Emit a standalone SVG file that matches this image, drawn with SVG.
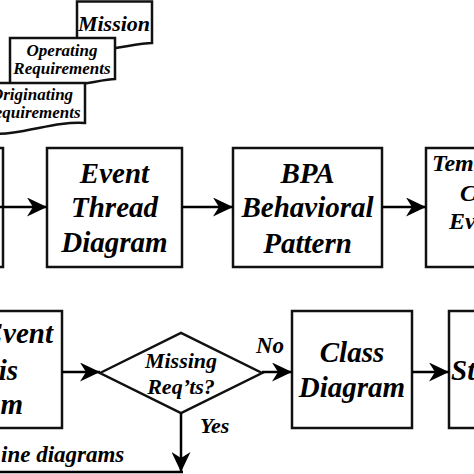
<svg xmlns="http://www.w3.org/2000/svg" width="474" height="474" viewBox="0 0 474 474">
<style>
.b{fill:#fff;stroke:#111;stroke-width:2.5}
.t{font-family:"Liberation Serif","Times New Roman",serif;font-weight:bold;font-style:italic;fill:#000}
.big{font-size:29px;text-anchor:middle}
.c{stroke:#000;stroke-width:2.5;fill:none}
</style>
<defs>
<marker id="ah" markerUnits="userSpaceOnUse" markerWidth="20" markerHeight="19" refX="20" refY="9.5" orient="auto" viewBox="0 0 20 19">
<path d="M0,0 L20,9.5 L0,19 L6,9.5 z" fill="#000"/>
</marker>
</defs>
<rect width="474" height="474" fill="#fff"/>
<g id="mission">
<path class="b" d="M77,1.5 H152 V43 C135,43 100,54 77,50 Z"/>
<text class="t" x="114" y="31" font-size="22" text-anchor="middle">Mission</text>
</g>
<g id="operating">
<path class="b" d="M10,38 H115 V79 C100,79 60,92 10,88 Z"/>
<text class="t" x="62" y="56" font-size="17" text-anchor="middle">Operating</text>
<text class="t" x="62" y="74" font-size="17" text-anchor="middle">Requirements</text>
</g>
<g id="originating">
<path class="b" d="M-20,83 H85 V123 C50,121 25,136 -20,134 Z"/>
<text class="t" x="32" y="100" font-size="17" text-anchor="middle">Originating</text>
<text class="t" x="32" y="118" font-size="17" text-anchor="middle">Requirements</text>
</g>
<g id="box0">
<rect class="b" x="-120" y="148" width="123" height="119"/>
</g>
<g id="event-thread">
<rect class="b" x="47" y="148" width="135" height="119"/>
<text class="t big" x="114.5" y="183">Event</text>
<text class="t big" x="114.5" y="217">Thread</text>
<text class="t big" x="114.5" y="252">Diagram</text>
</g>
<g id="bpa">
<rect class="b" x="233" y="148" width="149" height="119"/>
<text class="t big" x="307.5" y="183">BPA</text>
<text class="t big" x="307.5" y="217">Behavioral</text>
<text class="t big" x="307.5" y="253">Pattern</text>
</g>
<g id="temporal">
<rect class="b" x="426" y="148" width="60" height="119"/>
<text class="t" x="432" y="171" font-size="24">Tem</text>
<text class="t" x="460" y="201" font-size="24">C</text>
<text class="t" x="449" y="229" font-size="24">Ev</text>
</g>
<g id="event-analysis">
<rect class="b" x="-80" y="311" width="142" height="117"/>
<text class="t" x="53" y="343" font-size="29" text-anchor="end">Event</text>
<text class="t" x="18" y="380" font-size="29" text-anchor="end">Analysis</text>
<text class="t" x="23" y="414" font-size="29" text-anchor="end">Diagram</text>
</g>
<g id="decision">
<path class="b" d="M100,373 L181,333 L262,373 L181,413 Z"/>
<text class="t" x="181" y="368" font-size="22" text-anchor="middle">Missing</text>
<text class="t" x="181" y="394" font-size="22" text-anchor="middle">Req’ts?</text>
</g>
<g id="class-diagram">
<rect class="b" x="292" y="311" width="120" height="117"/>
<text class="t big" x="352" y="362">Class</text>
<text class="t big" x="352" y="397">Diagram</text>
</g>
<g id="state">
<rect class="b" x="449" y="311" width="40" height="117"/>
<text class="t" x="451" y="380" font-size="29">St</text>
</g>
<g id="connectors">
<line class="c" x1="0" y1="207" x2="47" y2="207" marker-end="url(#ah)"/>
<line class="c" x1="182" y1="207" x2="233" y2="207" marker-end="url(#ah)"/>
<line class="c" x1="382" y1="207" x2="426" y2="207" marker-end="url(#ah)"/>
<line class="c" x1="62" y1="372" x2="100" y2="372" marker-end="url(#ah)"/>
<line class="c" x1="262" y1="372" x2="292" y2="372" marker-end="url(#ah)"/>
<line class="c" x1="412" y1="372" x2="449" y2="372" marker-end="url(#ah)"/>
<line class="c" x1="181" y1="413" x2="181" y2="472" marker-end="url(#ah)"/>
<line class="c" x1="0" y1="472" x2="183" y2="472" stroke-width="3"/>
<text class="t" x="256" y="353" font-size="23">No</text>
<text class="t" x="200" y="433" font-size="22">Yes</text>
<text class="t" x="1" y="462" font-size="23">ine diagrams</text>
</g>
</svg>
